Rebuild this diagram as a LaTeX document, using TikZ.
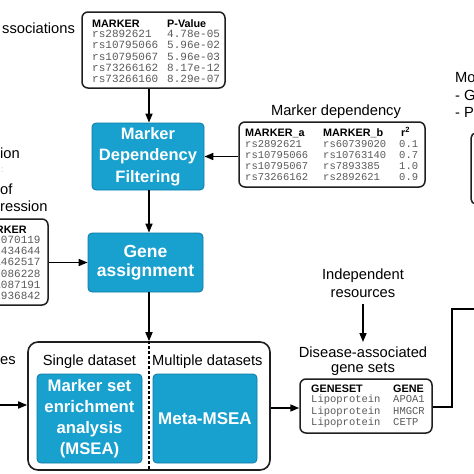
\documentclass[tikz,border=0pt]{standalone}
\usepackage{fontspec}
\setmainfont{Liberation Sans}
\setmonofont{Liberation Mono}
\usetikzlibrary{arrows.meta,calc}
\definecolor{boxblue}{RGB}{24,160,206}
\definecolor{boxedge}{RGB}{14,122,166}
\definecolor{monogray}{RGB}{90,90,90}
\begin{document}
\begin{tikzpicture}[x=1pt,y=-1pt,
  tablebox/.style={draw=black!88, line width=1.5pt, rounded corners=6pt, inner sep=0pt, fill=white},
  bluebox/.style={draw=boxedge, fill=boxblue, line width=0.8pt, rounded corners=4pt, text=white,
     font=\fontsize{16.5}{21.5}\selectfont\bfseries, align=center, inner sep=0pt},
  lbl/.style={font=\fontsize{14.7}{18}\selectfont, inner sep=0pt, anchor=base west},
  hdr/.style={font=\fontsize{10.8}{11}\selectfont\bfseries, anchor=base west, inner sep=0pt},
  mono/.style={font=\fontsize{11}{11}\selectfont\ttfamily, text=monogray, anchor=base west, inner sep=0pt},
  monos/.style={font=\fontsize{10.5}{11}\selectfont\ttfamily, text=monogray, anchor=base west, inner sep=0pt},
  arr/.style={-{Triangle[length=9pt,width=7pt]}, line width=1.6pt},
  conn/.style={line width=1.6pt}]
\useasboundingbox (0,0) rectangle (474,474);
\clip (0,0) rectangle (474,474);
\fill[white] (0,0) rectangle (474,474);
\coordinate (spine) at (149,0);

% ---------- top association table ----------
\node[lbl] (assocl) at (2,33) {ssociations};
\node[tablebox, minimum width=143pt, minimum height=76pt] (assoc) at (153.5,50) {};
\node[hdr] (assochA) at (92,27) {MARKER};
\node[hdr] (assochB) at (167,27) {P-Value};
\foreach \a/\b [count=\i] in {rs2892621/4.78e-05,rs10795066/5.96e-02,rs10795067/5.96e-03,rs73266162/8.17e-12,rs73266160/8.29e-07}{
  \node[mono] (assocA\i) at (92,{37.5+11.25*(\i-1)}) {\a};
  \node[mono] (assocB\i) at (167,{37.5+11.25*(\i-1)}) {\b};
}

% ---------- marker dependency table ----------
\node[lbl, anchor=base] (depl) at (336,115) {Marker dependency};
\node[tablebox, minimum width=186pt, minimum height=65pt] (dep) at (332,154.5) {};
\node[hdr] (dephA) at (245,136) {MARKER\_a};
\node[hdr] (dephB) at (323,136) {MARKER\_b};
\node[hdr] (dephC) at (401,136) {r\textsuperscript{2}};
\foreach \a/\b/\c [count=\i] in {rs2892621/rs60739020/0.1,rs10795066/rs10763140/0.7,rs10795067/rs7893385/1.0,rs73266162/rs2892621/0.9}{
  \node[monos] (depA\i) at (245,{147.5+10.9*(\i-1)}) {\a};
  \node[monos] (depB\i) at (323,{147.5+10.9*(\i-1)}) {\b};
  \node[monos] (depC\i) at (399,{147.5+10.9*(\i-1)}) {\c};
}

% ---------- left texts and table ----------
\node[lbl] (leftl1) at (0,158) {ion};
\node[lbl, font=\fontsize{9}{10}\selectfont, text=black!25] (leftl2) at (1,172) {:};
\node[lbl] (leftl3) at (0,194) {of};
\node[lbl] (leftl4) at (0,211) {ression};
\node[tablebox, minimum width=108pt, minimum height=86pt] (lefttab) at (-6,262) {};
\node[hdr] (lefth) at (-21,233) {MARKER};
\foreach \a [count=\i] in {rs2070119,rs2434644,rs1462517,rs7086228,rs1087191,rs2936842}{
  \node[mono] (leftr\i) at (-19,{243.5+11.2*(\i-1)}) {\a};
}

% ---------- blue process boxes ----------
\node[bluebox, minimum width=112pt, minimum height=67pt] (mdf) at (148,156.5) {Marker\\Dependency\\Filtering};
\node[bluebox, minimum width=115pt, minimum height=59pt, font=\fontsize{17.5}{18.5}\selectfont\bfseries] (gene) at (145.5,262.5) {Gene\\assignment};

% ---------- right module text and box ----------
\node[lbl] (mod1) at (455,82) {Mo};
\node[lbl] (mod2) at (455,100) {- G};
\node[lbl] (mod3) at (455,117) {- P};
\node[tablebox, rounded corners=5pt, minimum width=60pt, minimum height=71pt] (rbox) at (501,168.5) {};

% ---------- bottom MSEA box ----------
\node[lbl] (esl) at (0,364) {es};
\node[draw=black!88, line width=1.6pt, rounded corners=10pt, minimum width=242pt, minimum height=128pt, inner sep=0pt] (big) at (149,406) {};
\draw[line width=1.8pt, dash pattern=on 3pt off 2pt] (big.north -| spine) -- (big.south -| spine);
\node[lbl, anchor=base] (single) at (89.5,365) {Single dataset};
\node[lbl] (multi) at (152,365) {Multiple datasets};
\node[bluebox, minimum width=105pt, minimum height=89pt, font=\fontsize{16.7}{21}\selectfont\bfseries] (msea) at (89.5,418.5) {Marker set\\enrichment\\analysis\\(MSEA)};
\node[bluebox, minimum width=104pt, minimum height=89pt, font=\fontsize{17}{21}\selectfont\bfseries] (meta) at (205,418.5) {Meta-MSEA};

% ---------- independent resources / gene sets ----------
\node[lbl, anchor=base] (indep1) at (363,279) {Independent};
\node[lbl, anchor=base] (indep2) at (363,297.5) {resources};
\node[lbl, anchor=base] (dis1) at (363,357.5) {Disease-associated};
\node[lbl, anchor=base] (dis2) at (363,372) {gene sets};
\node[tablebox, minimum width=132pt, minimum height=54pt] (gs) at (366,406) {};
\node[hdr] (gshA) at (311,392) {GENESET};
\node[hdr] (gshB) at (393,392) {GENE};
\foreach \a/\b [count=\i] in {Lipoprotein/APOA1,Lipoprotein/HMGCR,Lipoprotein/CETP}{
  \node[monos] (gsA\i) at (311,{402.5+11.5*(\i-1)}) {\a};
  \node[monos] (gsB\i) at (393,{402.5+11.5*(\i-1)}) {\b};
}

% ---------- connectors ----------
\coordinate (inL) at (-5,405);
\coordinate (outR) at (490,309);
\draw[arr] (assoc.south -| spine) -- (mdf.north -| spine);
\draw[arr] (mdf.south -| spine) -- (gene.north -| spine);
\draw[arr] (gene.south -| spine) -- (big.north -| spine);
\draw[arr] (dep.west |- mdf.east) -- (mdf.east);
\draw[arr] (lefttab.east |- gene.west) -- (gene.west);
\draw[arr] (inL) -- (inL -| big.west);
\draw[arr] (big.east |- 0,408) -- (gs.west |- 0,408);
\draw[arr, shorten <=6pt] (indep2.south) -- (363,342);
\draw[conn] (gs.east |- 0,407) -- (452,407) |- (outR);
\end{tikzpicture}
\end{document}
